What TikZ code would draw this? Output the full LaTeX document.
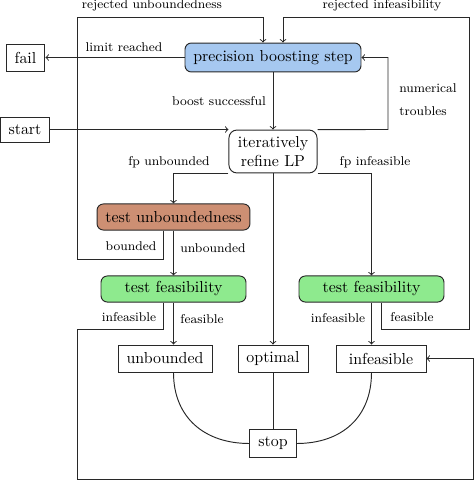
\documentclass[tikz,border=0pt]{standalone}
\usetikzlibrary{calc}
\definecolor{boostblue}{RGB}{166,200,240}
\definecolor{unbbrown}{RGB}{205,143,115}
\definecolor{feasgreen}{RGB}{142,234,142}
\definecolor{linegray}{RGB}{40,40,40}
\tikzset{
  box/.style={draw=linegray, line width=0.6pt, inner sep=0pt, font=\normalsize},
  rbox/.style={box, rounded corners=4pt},
  lbl/.style={font=\footnotesize, inner sep=0pt},
  conn/.style={draw=linegray, line width=0.6pt},
  arr/.style={conn, ->},
}
\begin{document}
\begin{tikzpicture}[x=0.629pt,y=-0.629pt]
\useasboundingbox (0,0) rectangle (474,481);
% nodes
\node[box, minimum width=24.5pt, minimum height=17pt] (fail) at (25.5,57.5) {fail};
\node[box, minimum width=31pt, minimum height=15.7pt] (start) at (25,129.5) {start};
\node[rbox, fill=boostblue, minimum width=110.7pt, minimum height=18.2pt] (prec) at (273,57.5) {precision boosting step};
\node[rbox, rounded corners=5pt, align=center, minimum width=55.4pt, minimum height=27pt] (iter) at (273,151.5) {iteratively\\refine LP};
\node[rbox, fill=unbbrown, minimum width=96.2pt, minimum height=16.4pt] (testunb) at (173.5,217) {test unboundedness};
\node[rbox, fill=feasgreen, minimum width=91.2pt, minimum height=16.4pt] (tfL) at (173.5,289) {test feasibility};
\node[rbox, fill=feasgreen, minimum width=91.2pt, minimum height=16.4pt] (tfR) at (371.5,289) {test feasibility};
\node[box, minimum width=59.1pt, minimum height=17pt] (unb) at (165,358.5) {unbounded};
\node[box, minimum width=44pt, minimum height=17pt] (opt) at (273,358.5) {optimal};
\node[box, minimum width=56.6pt, minimum height=17pt] (inf) at (381,358.5) {infeasible};
\node[box, minimum width=29pt, minimum height=18.2pt] (stop) at (273,443.5) {stop};
% loop coordinates
\coordinate (nt) at (388,129.5);
\coordinate (b1) at (77,259);
\coordinate (b2) at (77,17);
\coordinate (r1) at (469,329);
\coordinate (r2) at (469,17);
\coordinate (i1) at (77,329);
\coordinate (i2) at (77,479);
\coordinate (i3) at (473,479);
% connectors
\draw[arr] (prec) -- (fail);
\draw[arr] (prec) -- (iter);
\draw[arr] (start) -- (start -| iter.west);
\draw[arr] (iter.north east) -- (nt) |- (prec.east);
\draw[arr] (iter.south west) -| (testunb.north);
\draw[arr] (iter.south east) -| (tfR.north);
\draw[arr] (iter) -- (opt);
\draw[arr] (testunb) -- (tfL);
\draw[arr] ([xshift=-6.29pt]testunb.south) |- (b1) -- (b2) -| ([xshift=-6.29pt]prec.north);
\draw[arr] ([xshift=6.29pt]tfR.south) |- (r1) -- (r2) -| ([xshift=6.29pt]prec.north);
\draw[arr] (tfL.south) -- (tfL.south |- unb.north);
\draw[arr] ([xshift=-6.29pt]tfL.south) |- (i1) -- (i2) -- (i3) |- (inf.east);
\draw[arr] (tfR.south) -- (tfR.south |- inf.north);
\draw[conn] (tfL.south |- unb.south) .. controls +(0,45) and +(-45,0) .. (stop.west);
\draw[conn] (opt) -- (stop);
\draw[conn] (tfR.south |- inf.south) .. controls +(0,45) and +(45,0) .. (stop.east);
% labels
\node[lbl] (lru) at (152,5) {rejected unboundedness};
\node[lbl] (lri) at (382,5) {rejected infeasibility};
\node[lbl] (llr) at (124,47) {limit reached};
\node[lbl] (lbs) at (219,101) {boost successful};
\node[lbl, anchor=west, align=left] (lnt) at (399,99.5) {numerical\\[5pt]troubles};
\node[lbl] (lfu) at (169,162) {fp unbounded};
\node[lbl] (lfi) at (375,162) {fp infeasible};
\node[lbl] (lbd) at (131,246) {bounded};
\node[lbl] (lub) at (213,248) {unbounded};
\node[lbl] (lil) at (129,317) {infeasible};
\node[lbl] (lfl) at (202,319) {feasible};
\node[lbl] (lir) at (338,318) {infeasible};
\node[lbl] (lfr) at (412,317) {feasible};
\end{tikzpicture}
\end{document}
